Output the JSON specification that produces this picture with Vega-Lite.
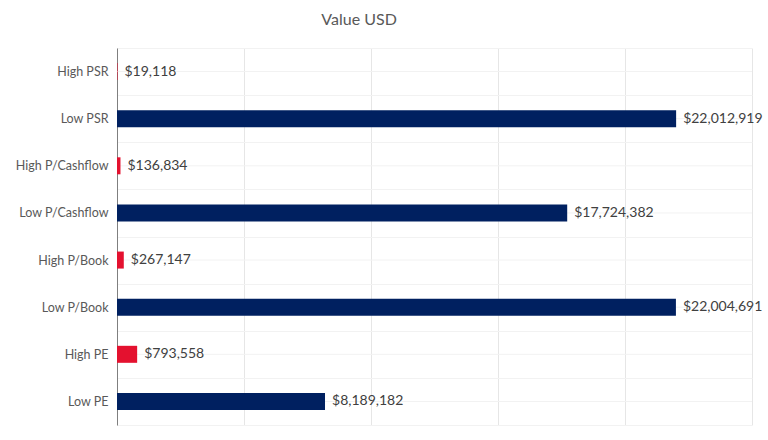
{
  "$schema": "https://vega.github.io/schema/vega-lite/v6.json",
  "width": 635,
  "height": 377,
  "autosize": "none",
  "padding": {"left": 117, "top": 48, "right": 16, "bottom": 15},
  "background": "white",
  "title": {
    "text": "Value USD",
    "anchor": "start",
    "dx": 306,
    "offset": 14,
    "font": "Lato",
    "fontSize": 16,
    "fontWeight": "normal",
    "color": "#595959"
  },
  "data": {
    "values": [
      {"metric": "High PSR", "group": "High", "value": 19118},
      {"metric": "Low PSR", "group": "Low", "value": 22012919},
      {"metric": "High P/Cashflow", "group": "High", "value": 136834},
      {"metric": "Low P/Cashflow", "group": "Low", "value": 17724382},
      {"metric": "High P/Book", "group": "High", "value": 267147},
      {"metric": "Low P/Book", "group": "Low", "value": 22004691},
      {"metric": "High PE", "group": "High", "value": 793558},
      {"metric": "Low PE", "group": "Low", "value": 8189182}
    ]
  },
  "config": {
    "view": {"stroke": null},
    "axis": {"gridColor": "#f0f0f0", "gridWidth": 1}
  },
  "encoding": {
    "y": {
      "field": "metric",
      "type": "nominal",
      "sort": null,
      "title": null,
      "scale": {"paddingInner": 0, "paddingOuter": 0},
      "axis": {
        "labelFont": "Lato",
        "labelFontSize": 12.5,
        "labelColor": "#595959",
        "labelPadding": 9,
        "ticks": false,
        "domainColor": "#7f7f7f",
        "domainWidth": 1,
        "grid": true,
        "tickBand": "extent",
        "gridColor": "#f2f2f2"
      }
    }
  },
  "layer": [
    {
      "mark": {"type": "rule", "color": "#f2f2f2", "strokeWidth": 1},
      "encoding": {}
    },
    {
      "mark": {"type": "bar", "size": 17},
      "encoding": {
        "x": {
          "field": "value",
          "type": "quantitative",
          "title": null,
          "scale": {"domain": [0, 25000000], "nice": false},
          "axis": {
            "values": [0, 5000000, 10000000, 15000000, 20000000, 25000000],
            "labels": false,
            "ticks": false,
            "domain": false,
            "grid": true,
            "gridColor": "#e6e6e6"
          }
        },
        "color": {
          "field": "group",
          "type": "nominal",
          "scale": {"domain": ["High", "Low"], "range": ["#e4112f", "#002060"]},
          "legend": null
        }
      }
    },
    {
      "mark": {
        "type": "text",
        "align": "left",
        "baseline": "middle",
        "dx": 7,
        "font": "Lato",
        "fontSize": 14,
        "color": "#404040"
      },
      "encoding": {
        "x": {"field": "value", "type": "quantitative"},
        "text": {"field": "value", "type": "quantitative", "format": "$,.0f"}
      }
    }
  ]
}
